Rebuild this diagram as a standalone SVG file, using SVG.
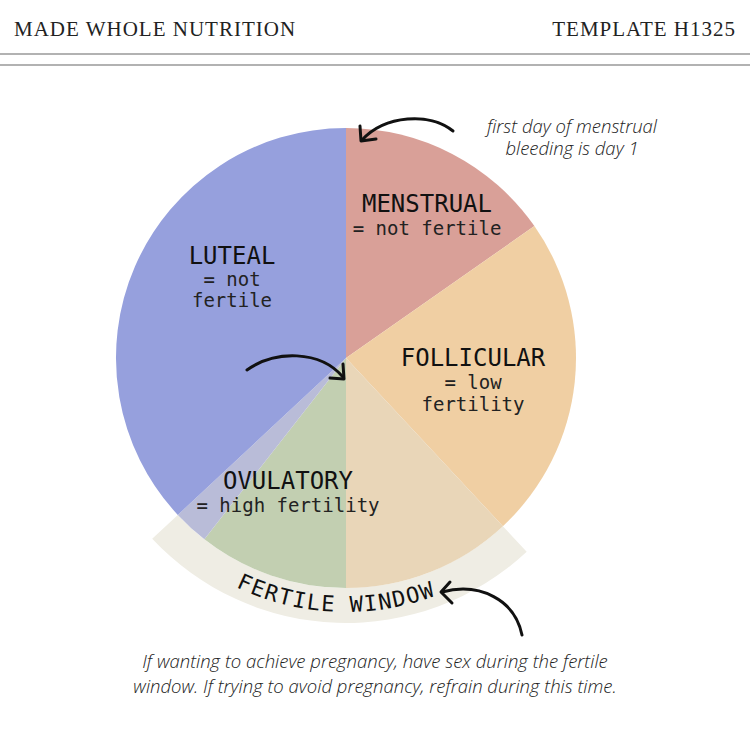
<svg xmlns="http://www.w3.org/2000/svg" width="750" height="750" viewBox="0 0 750 750">
<style>
.h{font-family:"Liberation Serif",serif;font-size:21px;fill:#222;letter-spacing:1px}
.t{font-family:"DejaVu Sans Mono",monospace;font-size:24px;fill:#111;text-anchor:middle}
.s{font-family:"DejaVu Sans Mono",monospace;font-size:19px;fill:#222;text-anchor:middle}
.i{font-family:"Open Sans",sans-serif;font-style:italic;font-size:18.5px;fill:#222;text-anchor:middle;font-weight:300}
.a{fill:none;stroke:#111;stroke-width:3;stroke-linecap:round;stroke-linejoin:round}
</style>
<defs><path id="arc" d="M 219 578 A 254 254 0 0 0 473 578"/></defs>
<rect width="750" height="750" fill="#fff"/>
<text class="h" x="14" y="36">MADE WHOLE NUTRITION</text>
<text class="h" x="736" y="36" text-anchor="end">TEMPLATE H1325</text>
<line x1="0" y1="54" x2="750" y2="54" stroke="#999" stroke-width="1.5"/>
<line x1="0" y1="65" x2="750" y2="65" stroke="#999" stroke-width="1.5"/>
<g id="band"><path d="M 502.9 526.2 L 526.7 551.8 A 265 265 0 0 1 152.2 538.7 L 177.8 514.9 A 230 230 0 0 0 502.9 526.2 Z" fill="#efede4"/></g>
<g id="pie">
<path d="M346 358 L346 128 A230 230 0 0 1 534.4 226.1 Z" fill="#d9a098"/>
<path d="M346 358 L534.4 226.1 A230 230 0 0 1 502.9 526.2 Z" fill="#f0cfa3"/>
<path d="M346 358 L502.9 526.2 A230 230 0 0 1 346 588 Z" fill="#e9d6b8"/>
<path d="M346 358 L346 588 A230 230 0 0 1 204.4 539.2 Z" fill="#c2cfb1"/>
<path d="M346 358 L204.4 539.2 A230 230 0 0 1 177.8 514.9 Z" fill="#b9bcd8"/>
<path d="M346 358 L177.8 514.9 A230 230 0 0 1 346 128 Z" fill="#96a0dd"/>
</g>
<g id="menstrual"><text class="t" x="427" y="212">MENSTRUAL</text><text class="s" x="427" y="235">= not fertile</text></g>
<g id="luteal"><text class="t" x="232" y="264">LUTEAL</text><text class="s" x="232" y="286">= not</text><text class="s" x="232" y="307">fertile</text></g>
<g id="follicular"><text class="t" x="473" y="366">FOLLICULAR</text><text class="s" x="473" y="389">= low</text><text class="s" x="473" y="411">fertility</text></g>
<g id="ovulatory"><text class="t" x="288" y="489">OVULATORY</text><text class="s" x="288" y="512">= high fertility</text></g>
<g id="fertile"><text class="t" style="font-size:22px;letter-spacing:1.5px"><textPath href="#arc" startOffset="46%">FERTILE WINDOW</textPath></text></g>
<g id="notes">
<text class="i" x="572" y="133">first day of menstrual</text>
<text class="i" x="572" y="155">bleeding is day 1</text>
<text class="i" x="375" y="668">If wanting to achieve pregnancy, have sex during the fertile</text>
<text class="i" x="375" y="693">window. If trying to avoid pregnancy, refrain during this time.</text>
</g>
<g id="connectors">
<path class="a" d="M453 131 C430 112 385 115 362 140"/><path class="a" d="M360 126 L361 141 L376 139"/>
<path class="a" d="M247 370 C275 350 320 350 343 377"/><path class="a" d="M330 378 L344 379 L343 364"/>
<path class="a" d="M522 635 C515 600 480 582 442 592"/><path class="a" d="M450 582 L441 592 L452 603"/>
</g>
</svg>
